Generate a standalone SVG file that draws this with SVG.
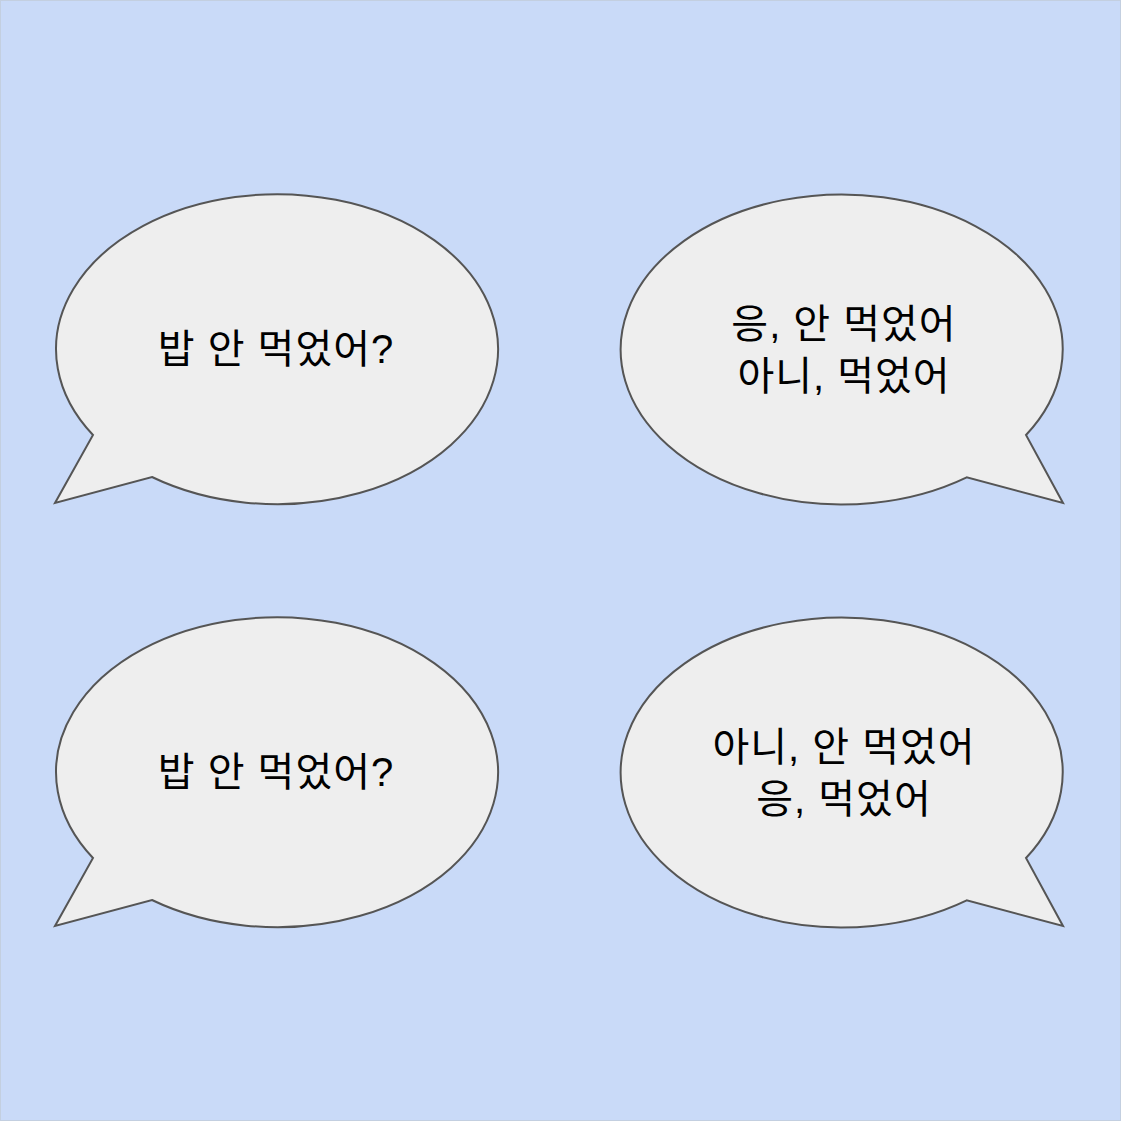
<svg xmlns="http://www.w3.org/2000/svg" width="1121" height="1121" viewBox="0 0 1121 1121">
<style>
.bubble{fill:#eeeeee;stroke:#555555;stroke-width:2;stroke-linejoin:miter}
.t{font-family:"Liberation Sans","Noto Sans CJK KR",sans-serif;font-size:40px;letter-spacing:1px;fill:#000;text-anchor:middle}
</style>
<defs>
<path id="bl" d="M 93 435 A 221 155 0 1 1 152 477 L 55 503 Z"/>
<path id="br" d="M 966.7 477.3 A 221 155 0 1 1 1026 435 L 1063 503 Z"/>
</defs>
<rect x="0.5" y="0.5" width="1120" height="1120" fill="#c9daf8" stroke="#c3cfe0" stroke-width="1"/>
<g id="bubble-tl"><use href="#bl" class="bubble"/><text class="t" x="276" y="363">밥 안 먹었어?</text></g>
<g id="bubble-tr"><use href="#br" class="bubble"/><text class="t" x="844" y="338">응, 안 먹었어</text><text class="t" x="844" y="390">아니, 먹었어</text></g>
<g id="bubble-bl"><use href="#bl" class="bubble" transform="translate(0,423)"/><text class="t" x="276" y="786">밥 안 먹었어?</text></g>
<g id="bubble-br"><use href="#br" class="bubble" transform="translate(0,423)"/><text class="t" x="844" y="761">아니, 안 먹었어</text><text class="t" x="844" y="813">응, 먹었어</text></g>
<g id="connectors"></g>
</svg>
